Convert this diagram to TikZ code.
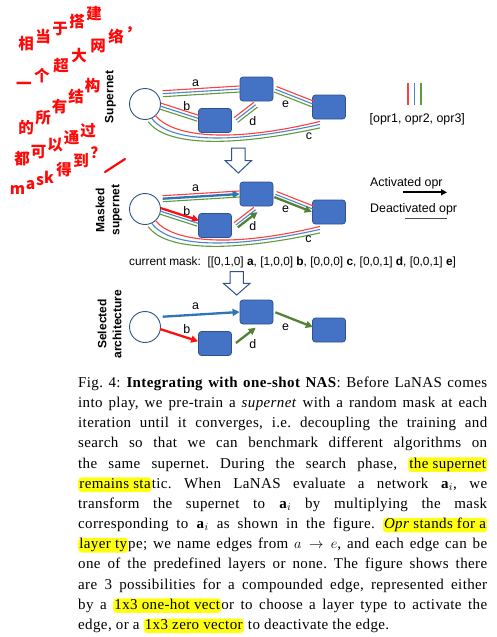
\documentclass[tikz,border=0pt]{standalone}
\usepackage{fontspec}
\setmainfont{Liberation Sans}
\newfontfamily\capfont[LetterSpace=2.5]{Liberation Serif}
\newfontfamily\cjkfont{Noto Sans CJK SC}
\usetikzlibrary{calc,arrows.meta}
\frenchspacing

\definecolor{boxfill}{HTML}{4472C4}
\definecolor{boxdraw}{HTML}{2F528F}
\definecolor{lred}{HTML}{FF4040}
\definecolor{lblue}{HTML}{4A86C8}
\definecolor{lgreen}{HTML}{5F9B3C}
\definecolor{ared}{HTML}{FF1010}
\definecolor{ablue}{HTML}{2E75B6}
\definecolor{agreen}{HTML}{548235}
\definecolor{hly}{HTML}{FFFF10}
\definecolor{ink}{HTML}{FF0808}

\tikzset{
  blk/.style={draw=boxdraw, fill=boxfill, rounded corners=3pt, minimum width=33pt, minimum height=24pt, inner sep=0pt, line width=0.8pt},
  innode/.style={circle, draw=boxdraw, fill=white, minimum size=31pt, inner sep=0pt, line width=0.9pt},
  thr/.style={draw=lred, line width=1.1pt},
  thb/.style={draw=lblue, line width=1.1pt},
  thg/.style={draw=lgreen, line width=1.1pt},
  actr/.style={draw=ared, line width=2.3pt, -{Triangle[length=7pt,width=7pt]}},
  actb/.style={draw=ablue, line width=2.3pt, -{Triangle[length=7pt,width=7pt]}},
  actg/.style={draw=agreen, line width=2.3pt, -{Triangle[length=7pt,width=7pt]}},
  lbl/.style={font=\fontsize{12.4}{14}\selectfont, inner sep=0pt, anchor=base},
  side/.style={font=\fontsize{12}{15}\selectfont\bfseries, rotate=90, align=center, inner sep=0pt},
  hollow/.style={draw=boxdraw, fill=white, line width=1pt, line join=miter},
  hand/.style={text=ink, font=\cjkfont\bfseries\fontsize{15.5}{15.5}\selectfont, inner sep=0pt},
  capline/.style={anchor=base west, inner sep=0pt, font=\capfont\fontsize{15}{20}\selectfont},
}

\newcommand\panelnodes[2]{%
  \begin{scope}[shift={(0,#2)}]
    \node[innode] (o#1) at (145,104) {};
    \node[blk] (A#1) at (256.5,89) {};
    \node[blk] (B#1) at (215,120.5) {};
    \node[blk] (C#1) at (329,107) {};
  \end{scope}}

\newcommand\panelcoords[1]{%
  \coordinate (as#1) at ($(o#1)+(17.7,-10.3)$);
  \coordinate (ae#1) at (A#1.west);
  \coordinate (bs#1) at ($(o#1)+(15,2)$);
  \coordinate (be#1) at ($(B#1.west)+(0,-2.2)$);
  \coordinate (ds#1) at ($(B#1.east)+(4,-0.5)$);
  \coordinate (de#1) at ($(A#1.south)+(-0.8,3.3)$);
  \coordinate (es#1) at ($(A#1.east)+(2,0.3)$);
  \coordinate (ee#1) at ($(C#1.west)+(0.7,-3)$);}

\newcommand\panellabels[2]{%
  \begin{scope}[shift={(0,#2)}]
    \node[lbl] (la#1) at (195.5,86.7) {a};
    \node[lbl] (lb#1) at (186.7,110) {b};
    \node[lbl] (le#1) at (285.5,107.3) {e};
    \node[lbl] (ld#1) at (252.8,125) {d};
  \end{scope}}

% three parallel lines: red left of direction, blue centre, green right
\newcommand\tri[5]{%
  \draw[#3] ($(#1)!3pt!90:(#2)$) -- ($(#2)!3pt!-90:(#1)$);
  \draw[#4] (#1) -- (#2);
  \draw[#5] ($(#1)!3pt!-90:(#2)$) -- ($(#2)!3pt!90:(#1)$);}

\newcommand\ccurve[4]{%
  \draw[#2] ($(o#1)+(10,11)$) .. controls +(17,22) and +(-90,22) .. ($(C#1.south)+(-9,2)$);
  \draw[#3] ($(o#1)+(6.7,14.3)$) .. controls +(18,24) and +(-90,20) .. ($(C#1.south)+(-9,5)$);
  \draw[#4] ($(o#1)+(3.3,17.7)$) .. controls +(17.7,24.3) and +(-90,19.5) .. ($(C#1.south)+(-9,8.5)$);}

\newcommand\hollowarrow[4]{% name, x, ytop, length
  \coordinate (#1) at (#2,#3);
  \draw[hollow] ($(#1)+(-6.7,0)$) -- ($(#1)+(6.7,0)$) -- ($(#1)+(6.7,#4/2)$) -- ($(#1)+(13.3,#4/2)$)
     -- ($(#1)+(0,#4)$) -- ($(#1)+(-13.3,#4/2)$) -- ($(#1)+(-6.7,#4/2)$) -- cycle;}

\newcommand\hlt[1]{\tikz[baseline=(hl.base)]\node[fill=hly, rounded corners=3.5pt, inner xsep=1.2pt, inner ysep=0pt, text height=10.8pt, text depth=3.8pt, outer sep=0pt] (hl) {#1};}

\newcommand\capl[2]{\node[capline] (cap#1) at (78,{387.5+20.15*(#1-1)}) {\makebox[409pt][s]{#2}};}

\begin{document}
\begin{tikzpicture}[x=1pt,y=-1pt]
\useasboundingbox (0,0) rectangle (496,637);
\fill[white] (0,0) rectangle (496,637);

% ---------- nodes ----------
\panelnodes{1}{0}
\panelnodes{2}{105}
\panelnodes{3}{223}
\panelcoords{1}
\panelcoords{2}
\panelcoords{3}

% ---------- panel 1: supernet ----------
\tri{as1}{ae1}{thr}{thb}{thg}
\tri{bs1}{be1}{thr}{thb}{thg}
\tri{ds1}{de1}{thr}{thb}{thg}
\tri{es1}{ee1}{thr}{thb}{thg}
\ccurve{1}{thr}{thb}{thg}
\panellabels{1}{0}
\node[lbl] (lc1) at (309,139.3) {c};
\node[side] (s1) at (110.5,97) {Supernet};

% legend opr
\draw[thr] (408,83) -- (408,105);
\draw[thb] (414.5,83) -- (414.5,105);
\draw[thg] (421,83) -- (421,105);
\node[lbl] (topr) at (417.3,122.5) {[opr1, opr2, opr3]};

\hollowarrow{dn1}{238.3}{148}{25}

% ---------- panel 2: masked supernet ----------
\tri{as2}{ae2}{thr}{actb}{thg}
\tri{bs2}{be2}{actr}{thb}{thg}
\tri{ds2}{de2}{thr}{thb}{actg}
\tri{es2}{ee2}{thr}{thb}{actg}
\ccurve{2}{thr}{thb}{thg}
\panellabels{2}{105}
\node[lbl] (lc2) at (308.5,242.5) {c};
\node[side] (s2) at (108.7,210) {Masked\\supernet};

% legend activated / deactivated
\node[lbl, anchor=base west] (tact) at (370,186) {Activated opr};
\coordinate (act0) at (403,192.3);
\coordinate (act1) at (447,192.3);
\draw[line width=2pt, -{Triangle[length=6pt,width=6pt]}] (act0) -- (act1);
\node[lbl, anchor=base west] (tdeact) at (370,212.7) {Deactivated opr};
\coordinate (de0) at (405,218.3);
\coordinate (de1x) at (447,218.3);
\draw[line width=0.9pt, draw=black!70] (de0) -- (de1x);

\node[lbl, anchor=base west, font=\fontsize{11.85}{14}\selectfont] (mask) at (129,265.5) {current mask:\ \ [[0,1,0] \textbf{a}, [1,0,0] \textbf{b}, [0,0,0] \textbf{c}, [0,0,1] \textbf{d}, [0,0,1] \textbf{e}]};

\hollowarrow{dn2}{236.7}{271.7}{23.3}

% ---------- panel 3: selected architecture ----------
\draw[actb] (as3) -- (ae3);
\draw[actr] (bs3) -- (be3);
\draw[actg] (ds3) -- (de3);
\draw[actg] (es3) -- (ee3);
\panellabels{3}{223}
\node[side] (s3) at (109.5,324) {Selected\\architecture};

% ---------- handwritten note ----------
\foreach \ch/\x/\y/\n in {相/26/44/1, 当/43/37/2, 于/60/29/3, 搭/77/22/4, 建/94/14/5}
  \node[hand] (ha\n) at (\x,\y) {\ch};
\foreach \ch/\x/\y/\n in {一/24/86/1, 个/42/76/2, 超/61/66/3, 大/79/56/4, 网/98/46/5, 络/116/36/6, ，/133/30/7}
  \node[hand] (hb\n) at (\x,\y) {\ch};
\foreach \ch/\x/\y/\n in {的/26/128/1, 所/43/117.5/2, 有/59.5/107/3, 结/76/96.5/4, 构/92.5/86/5}
  \node[hand] (hc\n) at (\x,\y) {\ch};
\foreach \ch/\x/\y/\n in {都/22/159/1, 可/38.5/152/2, 以/55/145/3, 通/71.5/138/4, 过/88/131/5}
  \node[hand] (hd\n) at (\x,\y) {\ch};
\foreach \ch/\x/\y/\n in {m/17.5/190/1, a/30.5/185/2, s/40/181/3, k/49/177/4}
  \node[hand] (hm\n) at (\x,\y) {\ch};
\foreach \ch/\x/\y/\n in {得/64/170/2, 到/81/161/3, ？/98/153/4}
  \node[hand] (he\n) at (\x,\y) {\ch};
\coordinate (hdash0) at (105,172);
\coordinate (hdash1) at (125,159);
\draw[ink, line width=2.2pt, line cap=round] (hdash0) -- (hdash1);

% ---------- caption ----------
\capl{1}{Fig. 4: \textbf{Integrating with one-shot NAS}: Before LaNAS comes}
\capl{2}{into play, we pre-train a \textit{supernet} with a random mask at each}
\capl{3}{iteration until it converges, i.e. decoupling the training and}
\capl{4}{search so that we can benchmark different algorithms on}
\capl{5}{the same supernet. During the search phase, \hlt{the supernet}}
\capl{6}{\hlt{remains sta}tic. When LaNAS evaluate a network \textbf{a}$_i$, we}
\capl{7}{transform the supernet to \textbf{a}$_i$ by multiplying the mask}
\capl{8}{corresponding to \textbf{a}$_i$ as shown in the figure. \hlt{\textit{Opr} stands for a}}
\capl{9}{\hlt{layer ty}pe; we name edges from $a \rightarrow e$, and each edge can be}
\capl{10}{one of the predefined layers or none. The figure shows there}
\capl{11}{are 3 possibilities for a compounded edge, represented either}
\capl{12}{by a \hlt{1x3 one-hot vect}or to choose a layer type to activate the}
\node[capline] (cap13) at (78,{387.5+20.15*12}) {edge, or a \hlt{1x3 zero vector} to deactivate the edge.};
\end{tikzpicture}
\end{document}
